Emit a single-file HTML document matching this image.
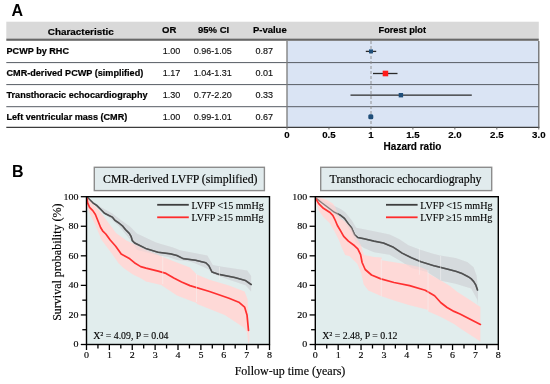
<!DOCTYPE html>
<html><head><meta charset="utf-8"><style>
html,body{margin:0;padding:0;background:#fff;width:550px;height:384px;overflow:hidden}
svg{display:block;will-change:transform}
.lab{font-family:"Liberation Sans",sans-serif;font-weight:bold;font-size:16px;fill:#000}
.hd{font-family:"Liberation Sans",sans-serif;font-weight:bold;font-size:9.75px;fill:#000;stroke:#000;stroke-width:0.2px}
.hd2{font-family:"Liberation Sans",sans-serif;font-weight:bold;font-size:10px;fill:#000;stroke:#000;stroke-width:0.15px}
.rb{font-family:"Liberation Sans",sans-serif;font-weight:bold;font-size:9.1px;fill:#000;stroke:#000;stroke-width:0.2px}
.rn{font-family:"Liberation Sans",sans-serif;font-size:9px;fill:#111;stroke:#111;stroke-width:0.15px}
.ax{font-family:"Liberation Sans",sans-serif;font-weight:bold;font-size:9.7px;fill:#000;stroke:#000;stroke-width:0.15px}
.tk{font-family:"Liberation Serif",serif;font-size:9.6px;fill:#000;stroke:#000;stroke-width:0.15px}
.ttl{font-family:"Liberation Serif",serif;font-size:12px;fill:#000;stroke:#000;stroke-width:0.15px}
.lg{font-family:"Liberation Serif",serif;font-size:10.1px;fill:#000;stroke:#000;stroke-width:0.12px}
</style></head><body>
<svg width="550" height="384" viewBox="0 0 550 384">
<rect width="550" height="384" fill="#fff"/>
<text x="11.6" y="15.6" class="lab">A</text>
<rect x="6.3" y="21.7" width="532.5" height="17" fill="#d9d9d9"/>
<rect x="287" y="41" width="251.8" height="86.5" fill="#dae4f4"/>
<rect x="6.3" y="38.6" width="532.5" height="2.2" fill="#686868"/>
<line x1="6.3" y1="62.6" x2="538.8" y2="62.6" stroke="#575c64" stroke-width="1.0"/>
<line x1="6.3" y1="84.6" x2="538.8" y2="84.6" stroke="#575c64" stroke-width="1.0"/>
<line x1="6.3" y1="106.7" x2="538.8" y2="106.7" stroke="#575c64" stroke-width="1.0"/>
<line x1="6.3" y1="127.4" x2="539.4" y2="127.4" stroke="#3c3c3c" stroke-width="1.3"/>
<line x1="287" y1="41" x2="287" y2="127.5" stroke="#7a7a7a" stroke-width="1.3"/>
<line x1="538.8" y1="41" x2="538.8" y2="127.5" stroke="#6a6a6a" stroke-width="1.3"/>
<text x="80.8" y="34.6" text-anchor="middle" class="hd" style="font-size:9.9px">Characteristic</text>
<text x="169.2" y="33.4" text-anchor="middle" class="hd" style="font-size:9.5px">OR</text>
<text x="213.6" y="33.4" text-anchor="middle" class="hd" style="font-size:9.5px">95% CI</text>
<text x="269.8" y="33.4" text-anchor="middle" class="hd" style="font-size:9.5px">P-value</text>
<text x="402.3" y="32.7" text-anchor="middle" class="hd" style="font-size:9.2px">Forest plot</text>
<text x="6.5" y="54.3" class="rb">PCWP by RHC</text>
<text x="171.5" y="54.3" text-anchor="middle" class="rn">1.00</text>
<text x="212.8" y="54.3" text-anchor="middle" class="rn">0.96-1.05</text>
<text x="264.3" y="54.3" text-anchor="middle" class="rn">0.87</text>
<text x="6.5" y="76.2" class="rb">CMR-derived PCWP (simplified)</text>
<text x="171.5" y="76.2" text-anchor="middle" class="rn">1.17</text>
<text x="212.8" y="76.2" text-anchor="middle" class="rn">1.04-1.31</text>
<text x="264.3" y="76.2" text-anchor="middle" class="rn">0.01</text>
<text x="6.5" y="98.1" class="rb">Transthoracic echocardiography</text>
<text x="171.5" y="98.1" text-anchor="middle" class="rn">1.30</text>
<text x="212.8" y="98.1" text-anchor="middle" class="rn">0.77-2.20</text>
<text x="264.3" y="98.1" text-anchor="middle" class="rn">0.33</text>
<text x="6.5" y="120.0" class="rb">Left ventricular mass (CMR)</text>
<text x="171.5" y="120.0" text-anchor="middle" class="rn">1.00</text>
<text x="212.8" y="120.0" text-anchor="middle" class="rn">0.99-1.01</text>
<text x="264.3" y="120.0" text-anchor="middle" class="rn">0.67</text>
<line x1="371" y1="41" x2="371" y2="127" stroke="#8a8a8a" stroke-width="0.9" stroke-dasharray="3,2"/>
<line x1="365.8" y1="51.4" x2="376.2" y2="51.4" stroke="#2a2a2a" stroke-width="1.3"/>
<rect x="369" y="49.4" width="4" height="4" fill="#1f4e79"/>
<line x1="373" y1="73.5" x2="397.5" y2="73.5" stroke="#2a2a2a" stroke-width="1.3"/>
<rect x="382.7" y="70.7" width="5.5" height="5.6" fill="#ff1a1a"/>
<line x1="350.5" y1="95.2" x2="471.8" y2="95.2" stroke="#2a2a2a" stroke-width="1.3"/>
<rect x="398.7" y="93" width="4.4" height="4.4" fill="#1f4e79"/>
<rect x="368.3" y="114.3" width="5" height="5" rx="1.5" fill="#1f4e79"/>
<line x1="287.0" y1="127.5" x2="287.0" y2="129.5" stroke="#666" stroke-width="1"/>
<text x="287.0" y="137.9" text-anchor="middle" class="ax">0</text>
<line x1="328.96500000000003" y1="127.5" x2="328.96500000000003" y2="129.5" stroke="#666" stroke-width="1"/>
<text x="328.96500000000003" y="137.9" text-anchor="middle" class="ax">0.5</text>
<line x1="370.93" y1="127.5" x2="370.93" y2="129.5" stroke="#666" stroke-width="1"/>
<text x="370.93" y="137.9" text-anchor="middle" class="ax">1</text>
<line x1="412.895" y1="127.5" x2="412.895" y2="129.5" stroke="#666" stroke-width="1"/>
<text x="412.895" y="137.9" text-anchor="middle" class="ax">1.5</text>
<line x1="454.86" y1="127.5" x2="454.86" y2="129.5" stroke="#666" stroke-width="1"/>
<text x="454.86" y="137.9" text-anchor="middle" class="ax">2.0</text>
<line x1="496.82500000000005" y1="127.5" x2="496.82500000000005" y2="129.5" stroke="#666" stroke-width="1"/>
<text x="496.82500000000005" y="137.9" text-anchor="middle" class="ax">2.5</text>
<line x1="538.79" y1="127.5" x2="538.79" y2="129.5" stroke="#666" stroke-width="1"/>
<text x="538.79" y="137.9" text-anchor="middle" class="ax">3.0</text>
<text x="412.5" y="149.7" text-anchor="middle" class="hd2">Hazard ratio</text>
<text x="12" y="177.2" class="lab">B</text>
<rect x="86.5" y="196.7" width="183.0" height="147.8" fill="#e1eded"/>
<polygon points="87.0,196.5 100.6,207.0 112.3,213.5 122.8,221.5 130.0,226.5 136.8,233.5 156.0,242.5 173.8,247.7 180.0,250.2 195.6,253.3 207.3,255.6 212.8,265.0 220.6,266.6 247.2,270.5 251.1,276.0 251.1,291.6 245.6,285.3 226.9,279.0 212.8,273.6 208.0,268.9 195.6,263.4 190.0,261.5 176.9,260.0 168.3,257.0 156.0,255.0 136.8,249.8 131.0,240.4 126.4,235.0 118.9,226.0 111.0,219.0 100.6,210.5 87.0,197.5" fill="#d9dee0"/>
<polyline points="87.0,197.0 90.2,200.2 92.8,202.8 96.7,205.4 100.6,209.3 104.5,213.2 108.4,215.2 112.3,217.1 115.0,220.4 118.9,223.0 122.8,226.2 125.4,229.5 129.3,233.4 131.2,236.7 132.3,240.6 134.7,243.0 145.6,248.4 158.1,252.3 170.6,253.9 176.9,255.5 183.1,258.6 195.6,260.3 205.8,262.7 208.9,265.8 212.0,272.0 219.0,274.4 234.7,277.5 245.6,280.6 251.1,284.5" fill="none" stroke="#3f3f3f" stroke-width="1.6" stroke-linejoin="round" stroke-linecap="round"/>
<polygon points="87.0,197.0 92.8,204.0 98.0,209.0 102.7,215.0 112.0,227.5 116.0,233.1 126.4,240.4 136.8,245.6 147.2,250.8 156.0,254.0 162.8,257.0 176.9,262.5 190.0,267.5 196.8,274.5 209.5,279.8 229.0,285.6 244.6,291.5 247.6,299.3 249.5,340.0 248.5,344.0 247.0,332.0 243.8,327.5 224.7,315.0 197.0,304.0 196.5,303.0 176.9,295.5 161.2,285.0 146.0,281.4 140.7,278.3 132.9,274.4 123.5,268.1 118.8,263.4 111.0,252.5 101.6,240.0 98.0,231.5 95.4,225.0 90.2,214.5 87.6,208.0 87.0,199.0" fill="#ffd8d6" opacity="0.95"/>
<polygon points="87.0,196.5 100.6,207.0 112.3,213.5 122.8,221.5 130.0,226.5 136.8,233.5 156.0,242.5 173.8,247.7 180.0,250.2 195.6,253.3 207.3,255.6 212.8,265.0 220.6,266.6 247.2,270.5 251.1,276.0 251.1,291.6 245.6,285.3 226.9,279.0 212.8,273.6 208.0,268.9 195.6,263.4 190.0,261.5 176.9,260.0 168.3,257.0 156.0,255.0 136.8,249.8 131.0,240.4 126.4,235.0 118.9,226.0 111.0,219.0 100.6,210.5 87.0,197.5" fill="#c8ccd0" opacity="0.2"/>
<polyline points="87.0,197.0 90.2,200.2 92.8,202.8 96.7,205.4 100.6,209.3 104.5,213.2 108.4,215.2 112.3,217.1 115.0,220.4 118.9,223.0 122.8,226.2 125.4,229.5 129.3,233.4 131.2,236.7 132.3,240.6 134.7,243.0 145.6,248.4 158.1,252.3 170.6,253.9 176.9,255.5 183.1,258.6 195.6,260.3 205.8,262.7 208.9,265.8 212.0,272.0 219.0,274.4 234.7,277.5 245.6,280.6 251.1,284.5" fill="none" stroke="#4a4a4a" stroke-width="1.4" stroke-linejoin="round" stroke-linecap="round" opacity="0.6"/>
<polyline points="87.0,198.3 87.6,202.8 89.6,207.4 92.8,210.6 95.4,214.5 98.0,221.0 100.6,227.5 102.6,230.8 105.8,234.0 110.2,240.0 115.7,246.2 121.2,254.0 129.8,258.8 134.4,262.7 140.7,266.6 146.0,268.1 158.1,271.1 166.0,273.4 173.8,278.1 181.6,282.0 190.0,285.6 209.5,291.5 229.0,298.3 238.8,302.2 244.6,307.1 247.0,314.9 248.5,330.5" fill="none" stroke="#ff3030" stroke-width="1.7" stroke-linejoin="round" stroke-linecap="round"/>
<line x1="196.5" y1="274" x2="196.5" y2="302" stroke="#f4f4f4" stroke-width="0.9" opacity="0.55"/>
<line x1="162.7" y1="256" x2="162.7" y2="284" stroke="#f4f4f4" stroke-width="0.9" opacity="0.55"/>
<line x1="219.5" y1="267" x2="219.5" y2="280" stroke="#f4f4f4" stroke-width="0.9" opacity="0.55"/>
<rect x="86.5" y="196.7" width="183.0" height="147.8" fill="none" stroke="#000" stroke-width="1.4"/>
<line x1="80.8" y1="344.50" x2="86.5" y2="344.50" stroke="#000" stroke-width="1.3"/>
<text transform="translate(78.50,347.40) scale(1.04,0.87)" text-anchor="end" class="tk">0</text>
<line x1="82.3" y1="329.72" x2="86.5" y2="329.72" stroke="#000" stroke-width="1.3"/>
<line x1="80.8" y1="314.94" x2="86.5" y2="314.94" stroke="#000" stroke-width="1.3"/>
<text transform="translate(78.50,317.84) scale(1.04,0.87)" text-anchor="end" class="tk">20</text>
<line x1="82.3" y1="300.16" x2="86.5" y2="300.16" stroke="#000" stroke-width="1.3"/>
<line x1="80.8" y1="285.38" x2="86.5" y2="285.38" stroke="#000" stroke-width="1.3"/>
<text transform="translate(78.50,288.28) scale(1.04,0.87)" text-anchor="end" class="tk">40</text>
<line x1="82.3" y1="270.60" x2="86.5" y2="270.60" stroke="#000" stroke-width="1.3"/>
<line x1="80.8" y1="255.82" x2="86.5" y2="255.82" stroke="#000" stroke-width="1.3"/>
<text transform="translate(78.50,258.72) scale(1.04,0.87)" text-anchor="end" class="tk">60</text>
<line x1="82.3" y1="241.04" x2="86.5" y2="241.04" stroke="#000" stroke-width="1.3"/>
<line x1="80.8" y1="226.26" x2="86.5" y2="226.26" stroke="#000" stroke-width="1.3"/>
<text transform="translate(78.50,229.16) scale(1.04,0.87)" text-anchor="end" class="tk">80</text>
<line x1="82.3" y1="211.48" x2="86.5" y2="211.48" stroke="#000" stroke-width="1.3"/>
<line x1="80.8" y1="196.70" x2="86.5" y2="196.70" stroke="#000" stroke-width="1.3"/>
<text transform="translate(78.50,199.60) scale(1.04,0.87)" text-anchor="end" class="tk">100</text>
<line x1="86.50" y1="344.5" x2="86.50" y2="350.0" stroke="#000" stroke-width="1.3"/>
<text transform="translate(86.50,358.2) scale(1.04,0.87)" text-anchor="middle" class="tk">0</text>
<line x1="97.94" y1="344.5" x2="97.94" y2="348.5" stroke="#000" stroke-width="1.3"/>
<line x1="109.38" y1="344.5" x2="109.38" y2="350.0" stroke="#000" stroke-width="1.3"/>
<text transform="translate(109.38,358.2) scale(1.04,0.87)" text-anchor="middle" class="tk">1</text>
<line x1="120.81" y1="344.5" x2="120.81" y2="348.5" stroke="#000" stroke-width="1.3"/>
<line x1="132.25" y1="344.5" x2="132.25" y2="350.0" stroke="#000" stroke-width="1.3"/>
<text transform="translate(132.25,358.2) scale(1.04,0.87)" text-anchor="middle" class="tk">2</text>
<line x1="143.69" y1="344.5" x2="143.69" y2="348.5" stroke="#000" stroke-width="1.3"/>
<line x1="155.12" y1="344.5" x2="155.12" y2="350.0" stroke="#000" stroke-width="1.3"/>
<text transform="translate(155.12,358.2) scale(1.04,0.87)" text-anchor="middle" class="tk">3</text>
<line x1="166.56" y1="344.5" x2="166.56" y2="348.5" stroke="#000" stroke-width="1.3"/>
<line x1="178.00" y1="344.5" x2="178.00" y2="350.0" stroke="#000" stroke-width="1.3"/>
<text transform="translate(178.00,358.2) scale(1.04,0.87)" text-anchor="middle" class="tk">4</text>
<line x1="189.44" y1="344.5" x2="189.44" y2="348.5" stroke="#000" stroke-width="1.3"/>
<line x1="200.88" y1="344.5" x2="200.88" y2="350.0" stroke="#000" stroke-width="1.3"/>
<text transform="translate(200.88,358.2) scale(1.04,0.87)" text-anchor="middle" class="tk">5</text>
<line x1="212.31" y1="344.5" x2="212.31" y2="348.5" stroke="#000" stroke-width="1.3"/>
<line x1="223.75" y1="344.5" x2="223.75" y2="350.0" stroke="#000" stroke-width="1.3"/>
<text transform="translate(223.75,358.2) scale(1.04,0.87)" text-anchor="middle" class="tk">6</text>
<line x1="235.19" y1="344.5" x2="235.19" y2="348.5" stroke="#000" stroke-width="1.3"/>
<line x1="246.62" y1="344.5" x2="246.62" y2="350.0" stroke="#000" stroke-width="1.3"/>
<text transform="translate(246.62,358.2) scale(1.04,0.87)" text-anchor="middle" class="tk">7</text>
<line x1="258.06" y1="344.5" x2="258.06" y2="348.5" stroke="#000" stroke-width="1.3"/>
<line x1="269.50" y1="344.5" x2="269.50" y2="350.0" stroke="#000" stroke-width="1.3"/>
<text transform="translate(269.50,358.2) scale(1.04,0.87)" text-anchor="middle" class="tk">8</text>
<rect x="94.3" y="167.3" width="170.09999999999997" height="23.3" fill="#e1ebed" stroke="#8c8c8c" stroke-width="1.4"/>
<text x="180.3" y="183.1" text-anchor="middle" class="ttl" style="font-size:11.8px">CMR-derived LVFP (simplified)</text>
<line x1="157.2" y1="204.8" x2="188.79999999999998" y2="204.8" stroke="#3f3f3f" stroke-width="1.8"/>
<line x1="157.2" y1="217.3" x2="188.79999999999998" y2="217.3" stroke="#ff2b2b" stroke-width="1.8"/>
<text x="191.5" y="208.5" class="lg">LVFP &lt;15 mmHg</text>
<text x="191.5" y="220.7" class="lg">LVFP ≥15 mmHg</text>
<text x="93.3" y="338.7" class="lg" style="font-size:9.8px">X² = 4.09, P = 0.04</text>
<rect x="315.3" y="196.7" width="183.0" height="147.8" fill="#e1eded"/>
<polygon points="315.5,197.0 334.3,206.0 340.6,209.0 345.2,212.2 351.5,220.0 356.2,227.8 374.0,231.2 389.6,234.4 399.0,239.0 408.4,245.3 420.9,250.0 434.0,254.1 440.0,255.6 455.6,258.0 467.3,261.9 473.6,267.3 476.7,276.0 478.0,290.0 478.0,305.0 477.5,300.0 471.2,288.4 455.6,283.8 440.0,280.6 434.0,276.2 427.1,271.9 411.5,268.0 400.6,261.0 389.6,254.7 374.0,252.3 364.0,248.0 356.0,243.0 351.5,233.0 344.5,222.0 334.3,214.0 316.0,199.5" fill="#d9dee0"/>
<polyline points="315.9,198.1 321.8,202.8 328.1,207.5 334.3,212.2 340.6,215.3 344.5,218.4 348.4,223.9 351.5,227.8 354.6,234.8 357.8,237.5 364.0,238.8 374.0,241.1 383.4,243.0 392.8,246.9 402.1,253.1 411.5,257.8 420.9,261.7 434.0,265.8 440.0,267.3 447.0,269.0 455.6,271.2 462.0,273.5 468.1,276.7 471.0,278.6 473.6,281.4 475.8,285.0 477.5,290.0" fill="none" stroke="#3f3f3f" stroke-width="1.6" stroke-linejoin="round" stroke-linecap="round"/>
<polygon points="315.9,196.6 326.5,199.7 332.8,203.6 335.1,206.7 337.4,212.2 340.6,218.4 345.2,221.6 351.5,227.8 356.2,237.2 360.9,245.0 364.0,255.0 374.0,257.0 381.5,257.5 381.8,260.2 405.2,264.0 420.9,267.2 427.1,270.0 428.4,273.5 440.0,280.0 450.0,286.0 457.5,292.0 470.0,300.0 480.4,307.0 480.4,341.4 460.0,328.3 454.0,323.9 440.9,316.9 428.4,311.4 427.6,309.8 409.6,305.2 394.0,300.5 380.9,296.1 368.4,290.6 363.7,284.4 361.3,273.4 357.4,264.0 349.6,256.2 345.2,255.0 341.3,246.6 339.0,240.3 334.3,230.9 329.6,223.1 323.4,216.9 318.7,210.6 316.3,202.8" fill="#ffd8d6" opacity="0.95"/>
<polygon points="315.5,197.0 334.3,206.0 340.6,209.0 345.2,212.2 351.5,220.0 356.2,227.8 374.0,231.2 389.6,234.4 399.0,239.0 408.4,245.3 420.9,250.0 434.0,254.1 440.0,255.6 455.6,258.0 467.3,261.9 473.6,267.3 476.7,276.0 478.0,290.0 478.0,305.0 477.5,300.0 471.2,288.4 455.6,283.8 440.0,280.6 434.0,276.2 427.1,271.9 411.5,268.0 400.6,261.0 389.6,254.7 374.0,252.3 364.0,248.0 356.0,243.0 351.5,233.0 344.5,222.0 334.3,214.0 316.0,199.5" fill="#c8ccd0" opacity="0.2"/>
<polyline points="315.9,198.1 321.8,202.8 328.1,207.5 334.3,212.2 340.6,215.3 344.5,218.4 348.4,223.9 351.5,227.8 354.6,234.8 357.8,237.5 364.0,238.8 374.0,241.1 383.4,243.0 392.8,246.9 402.1,253.1 411.5,257.8 420.9,261.7 434.0,265.8 440.0,267.3 447.0,269.0 455.6,271.2 462.0,273.5 468.1,276.7 471.0,278.6 473.6,281.4 475.8,285.0 477.5,290.0" fill="none" stroke="#4a4a4a" stroke-width="1.4" stroke-linejoin="round" stroke-linecap="round" opacity="0.6"/>
<polyline points="315.9,198.9 318.7,203.6 323.4,208.3 329.6,212.2 332.8,215.3 335.1,220.0 337.4,225.5 340.6,230.9 343.7,236.4 348.4,241.1 354.6,245.8 357.8,248.9 360.6,254.7 362.1,262.5 365.2,269.5 371.5,275.0 380.9,278.9 394.0,282.5 409.6,285.6 425.2,290.3 434.6,295.8 440.9,302.8 447.1,307.5 454.0,311.4 460.0,314.0 480.4,324.4" fill="none" stroke="#ff3030" stroke-width="1.7" stroke-linejoin="round" stroke-linecap="round"/>
<line x1="381.3" y1="259" x2="381.3" y2="296.5" stroke="#f4f4f4" stroke-width="0.9" opacity="0.55"/>
<line x1="428" y1="270" x2="428" y2="310.6" stroke="#f4f4f4" stroke-width="0.9" opacity="0.55"/>
<line x1="419.4" y1="248" x2="419.4" y2="274.7" stroke="#f4f4f4" stroke-width="0.9" opacity="0.55"/>
<line x1="440.6" y1="256" x2="440.6" y2="280" stroke="#f4f4f4" stroke-width="0.9" opacity="0.55"/>
<rect x="315.3" y="196.7" width="183.0" height="147.8" fill="none" stroke="#000" stroke-width="1.4"/>
<line x1="309.6" y1="344.50" x2="315.3" y2="344.50" stroke="#000" stroke-width="1.3"/>
<text transform="translate(307.30,347.40) scale(1.04,0.87)" text-anchor="end" class="tk">0</text>
<line x1="311.1" y1="329.72" x2="315.3" y2="329.72" stroke="#000" stroke-width="1.3"/>
<line x1="309.6" y1="314.94" x2="315.3" y2="314.94" stroke="#000" stroke-width="1.3"/>
<text transform="translate(307.30,317.84) scale(1.04,0.87)" text-anchor="end" class="tk">20</text>
<line x1="311.1" y1="300.16" x2="315.3" y2="300.16" stroke="#000" stroke-width="1.3"/>
<line x1="309.6" y1="285.38" x2="315.3" y2="285.38" stroke="#000" stroke-width="1.3"/>
<text transform="translate(307.30,288.28) scale(1.04,0.87)" text-anchor="end" class="tk">40</text>
<line x1="311.1" y1="270.60" x2="315.3" y2="270.60" stroke="#000" stroke-width="1.3"/>
<line x1="309.6" y1="255.82" x2="315.3" y2="255.82" stroke="#000" stroke-width="1.3"/>
<text transform="translate(307.30,258.72) scale(1.04,0.87)" text-anchor="end" class="tk">60</text>
<line x1="311.1" y1="241.04" x2="315.3" y2="241.04" stroke="#000" stroke-width="1.3"/>
<line x1="309.6" y1="226.26" x2="315.3" y2="226.26" stroke="#000" stroke-width="1.3"/>
<text transform="translate(307.30,229.16) scale(1.04,0.87)" text-anchor="end" class="tk">80</text>
<line x1="311.1" y1="211.48" x2="315.3" y2="211.48" stroke="#000" stroke-width="1.3"/>
<line x1="309.6" y1="196.70" x2="315.3" y2="196.70" stroke="#000" stroke-width="1.3"/>
<text transform="translate(307.30,199.60) scale(1.04,0.87)" text-anchor="end" class="tk">100</text>
<line x1="315.30" y1="344.5" x2="315.30" y2="350.0" stroke="#000" stroke-width="1.3"/>
<text transform="translate(315.30,358.2) scale(1.04,0.87)" text-anchor="middle" class="tk">0</text>
<line x1="326.74" y1="344.5" x2="326.74" y2="348.5" stroke="#000" stroke-width="1.3"/>
<line x1="338.18" y1="344.5" x2="338.18" y2="350.0" stroke="#000" stroke-width="1.3"/>
<text transform="translate(338.18,358.2) scale(1.04,0.87)" text-anchor="middle" class="tk">1</text>
<line x1="349.61" y1="344.5" x2="349.61" y2="348.5" stroke="#000" stroke-width="1.3"/>
<line x1="361.05" y1="344.5" x2="361.05" y2="350.0" stroke="#000" stroke-width="1.3"/>
<text transform="translate(361.05,358.2) scale(1.04,0.87)" text-anchor="middle" class="tk">2</text>
<line x1="372.49" y1="344.5" x2="372.49" y2="348.5" stroke="#000" stroke-width="1.3"/>
<line x1="383.93" y1="344.5" x2="383.93" y2="350.0" stroke="#000" stroke-width="1.3"/>
<text transform="translate(383.93,358.2) scale(1.04,0.87)" text-anchor="middle" class="tk">3</text>
<line x1="395.36" y1="344.5" x2="395.36" y2="348.5" stroke="#000" stroke-width="1.3"/>
<line x1="406.80" y1="344.5" x2="406.80" y2="350.0" stroke="#000" stroke-width="1.3"/>
<text transform="translate(406.80,358.2) scale(1.04,0.87)" text-anchor="middle" class="tk">4</text>
<line x1="418.24" y1="344.5" x2="418.24" y2="348.5" stroke="#000" stroke-width="1.3"/>
<line x1="429.68" y1="344.5" x2="429.68" y2="350.0" stroke="#000" stroke-width="1.3"/>
<text transform="translate(429.68,358.2) scale(1.04,0.87)" text-anchor="middle" class="tk">5</text>
<line x1="441.11" y1="344.5" x2="441.11" y2="348.5" stroke="#000" stroke-width="1.3"/>
<line x1="452.55" y1="344.5" x2="452.55" y2="350.0" stroke="#000" stroke-width="1.3"/>
<text transform="translate(452.55,358.2) scale(1.04,0.87)" text-anchor="middle" class="tk">6</text>
<line x1="463.99" y1="344.5" x2="463.99" y2="348.5" stroke="#000" stroke-width="1.3"/>
<line x1="475.43" y1="344.5" x2="475.43" y2="350.0" stroke="#000" stroke-width="1.3"/>
<text transform="translate(475.43,358.2) scale(1.04,0.87)" text-anchor="middle" class="tk">7</text>
<line x1="486.86" y1="344.5" x2="486.86" y2="348.5" stroke="#000" stroke-width="1.3"/>
<line x1="498.30" y1="344.5" x2="498.30" y2="350.0" stroke="#000" stroke-width="1.3"/>
<text transform="translate(498.30,358.2) scale(1.04,0.87)" text-anchor="middle" class="tk">8</text>
<rect x="320.7" y="167.3" width="171.0" height="23.3" fill="#e1ebed" stroke="#8c8c8c" stroke-width="1.4"/>
<text x="405.55" y="183.1" text-anchor="middle" class="ttl" style="font-size:11.8px">Transthoracic echocardiography</text>
<line x1="386.0" y1="204.8" x2="417.6" y2="204.8" stroke="#3f3f3f" stroke-width="1.8"/>
<line x1="386.0" y1="217.3" x2="417.6" y2="217.3" stroke="#ff2b2b" stroke-width="1.8"/>
<text x="420.3" y="208.5" class="lg">LVFP &lt;15 mmHg</text>
<text x="420.3" y="220.7" class="lg">LVFP ≥15 mmHg</text>
<text x="322.3" y="338.7" class="lg" style="font-size:9.8px">X² = 2.48, P = 0.12</text>
<text x="0" y="0" transform="translate(60.6,262.2) rotate(-90)" text-anchor="middle" class="ttl">Survival probability (%)</text>
<text x="290" y="375.3" text-anchor="middle" class="ttl">Follow-up time (years)</text>
</svg>
</body></html>
